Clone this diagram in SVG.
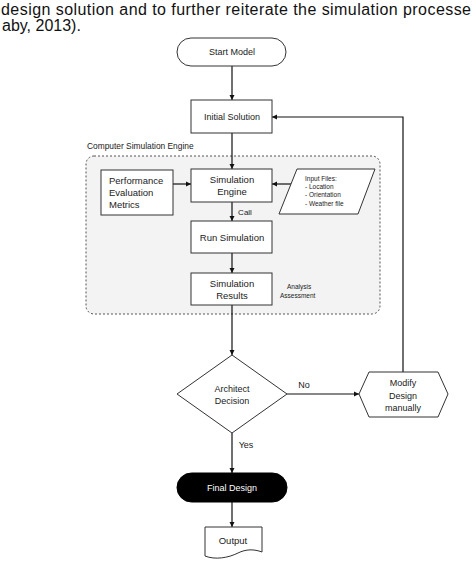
<svg xmlns="http://www.w3.org/2000/svg" width="474" height="563" viewBox="0 0 474 563">
<defs>
<marker id="ah" markerWidth="6" markerHeight="6" refX="5" refY="3" orient="auto" markerUnits="userSpaceOnUse">
<path d="M0,0.5 L5,3 L0,5.5 Z" fill="#111"/>
</marker>
<style>
.box{fill:#fff;stroke:#333;stroke-width:1}
.lbl{font-family:"Liberation Sans",Arial,sans-serif;font-size:9.5px;fill:#222;text-anchor:middle}
.sm{font-family:"Liberation Sans",Arial,sans-serif;font-size:9px;fill:#222;text-anchor:middle}
.xs{font-family:"Liberation Sans",Arial,sans-serif;font-size:8px;fill:#222;text-anchor:middle}
.tiny{font-family:"Liberation Sans",Arial,sans-serif;font-size:6.5px;fill:#222}
.ln{fill:none;stroke:#111;stroke-width:1.2}
.body{font-family:"Liberation Sans",Arial,sans-serif;font-size:16px;fill:#111}
</style>
</defs>
<rect width="474" height="563" fill="#fff"/>
<text class="body" x="1" y="15" textLength="470" lengthAdjust="spacing">design solution and to further reiterate the simulation processe</text>
<text class="body" x="2" y="31">aby, 2013).</text>

<g id="engine-container">
<rect x="86" y="156" width="294" height="158" rx="8" fill="#f3f3f3" stroke="#555" stroke-width="1" stroke-dasharray="2,2"/>
<text x="87" y="149" font-family="'Liberation Sans',Arial,sans-serif" font-size="8.4px" fill="#222">Computer Simulation Engine</text>
</g>

<g id="connectors">
<line class="ln" x1="232" y1="66" x2="232" y2="100" marker-end="url(#ah)"/>
<line class="ln" x1="232" y1="133" x2="232" y2="169" marker-end="url(#ah)"/>
<line class="ln" x1="173" y1="184" x2="191" y2="184" marker-end="url(#ah)"/>
<line class="ln" x1="292" y1="184" x2="272" y2="184" marker-end="url(#ah)"/>
<line class="ln" x1="232" y1="202" x2="232" y2="221" marker-end="url(#ah)"/>
<line class="ln" x1="232" y1="253" x2="232" y2="273" marker-end="url(#ah)"/>
<line class="ln" x1="232" y1="305" x2="232" y2="355" marker-end="url(#ah)"/>
<line class="ln" x1="287" y1="394" x2="359" y2="394" marker-end="url(#ah)"/>
<polyline class="ln" points="403,372 403,117 272,117" marker-end="url(#ah)"/>
<line class="ln" x1="232" y1="433" x2="232" y2="473" marker-end="url(#ah)"/>
<line class="ln" x1="232" y1="502" x2="232" y2="527" marker-end="url(#ah)"/>
<text class="xs" x="245" y="215">Call</text>
<text class="sm" x="304" y="388">No</text>
<text class="sm" x="246" y="448">Yes</text>
<text class="tiny" x="287" y="289">Analysis</text>
<text class="tiny" x="280" y="298">Assessment</text>
</g>

<g id="start-model">
<rect class="box" x="177" y="38" width="109" height="28" rx="14"/>
<text class="sm" x="232" y="55">Start Model</text>
</g>
<g id="initial-solution">
<rect class="box" x="191" y="100" width="81" height="33"/>
<text class="sm" x="232" y="120">Initial Solution</text>
</g>
<g id="performance">
<rect class="box" x="101" y="170" width="72" height="45"/>
<text class="lbl" x="109" y="184" style="text-anchor:start">Performance</text>
<text class="lbl" x="109" y="196" style="text-anchor:start">Evaluation</text>
<text class="lbl" x="109" y="208" style="text-anchor:start">Metrics</text>
</g>
<g id="simulation-engine">
<rect class="box" x="191" y="169" width="81" height="33"/>
<text class="lbl" x="232" y="183">Simulation</text>
<text class="lbl" x="232" y="195">Engine</text>
</g>
<g id="input-files">
<polygon class="box" points="297,169 375,169 358,214 279,214"/>
<text class="tiny" x="305" y="181">Input Files:</text>
<text class="tiny" x="305" y="189">- Location</text>
<text class="tiny" x="305" y="197">- Orientation</text>
<text class="tiny" x="305" y="206">- Weather file</text>
</g>
<g id="run-simulation">
<rect class="box" x="191" y="221" width="81" height="32"/>
<text class="lbl" x="232" y="241">Run Simulation</text>
</g>
<g id="simulation-results">
<rect class="box" x="191" y="273" width="81" height="32"/>
<text class="lbl" x="232" y="287">Simulation</text>
<text class="lbl" x="232" y="299">Results</text>
</g>
<g id="architect-decision">
<polygon class="box" points="232,355 287,394 232,433 177,394"/>
<text class="sm" x="232" y="392">Architect</text>
<text class="sm" x="232" y="404">Decision</text>
</g>
<g id="modify-design">
<polygon class="box" points="359,394 369,372 438,372 448,394 438,417 369,417"/>
<text class="sm" x="403" y="386">Modify</text>
<text class="sm" x="403" y="399">Design</text>
<text class="sm" x="403" y="411">manually</text>
</g>
<g id="final-design">
<rect x="177" y="473" width="110" height="29" rx="14.5" fill="#000" stroke="#000"/>
<text class="sm" x="232" y="491" style="fill:#fff">Final Design</text>
</g>
<g id="output">
<path class="box" d="M205,527 H262 V552 C254,549 246,549 238,553 C228,558 215,560 205,556 Z"/>
<text class="lbl" x="233" y="544">Output</text>
</g>
</svg>
